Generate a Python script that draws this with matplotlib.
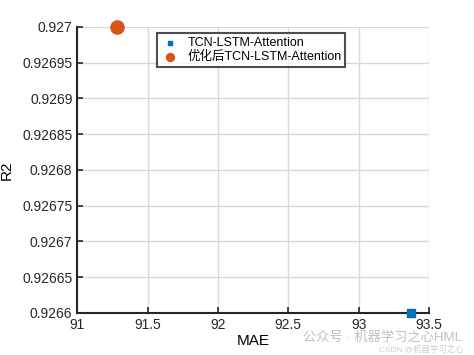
import matplotlib.pyplot as plt

plt.rcParams['font.family'] = ['Liberation Sans', 'Noto Sans CJK SC', 'DejaVu Sans']

# data
labels = ["TCN-LSTM-Attention", "优化后TCN-LSTM-Attention"]
mae = [93.37, 91.28]
r2 = [0.9266, 0.9270]
colors = ["#0072BD", "#D95319"]
markers = ["s", "o"]
sizes = [30, 90]

xticks = [91, 91.5, 92, 92.5, 93, 93.5]
yticks = [0.9266, 0.92665, 0.9267, 0.92675, 0.9268, 0.92685, 0.9269, 0.92695, 0.927]

fig = plt.figure(figsize=(4.74, 3.55), dpi=100)
ax = fig.add_axes([0.163, 0.119, 0.742, 0.805])

for i in range(len(labels)):
    ax.scatter(mae[i], r2[i], s=sizes[i], c=colors[i], marker=markers[i],
               label=labels[i], zorder=3, clip_on=False)

ax.set_xlim(91, 93.5)
ax.set_ylim(0.9266, 0.927)
ax.set_xticks(xticks)
ax.set_xticklabels(["91", "91.5", "92", "92.5", "93", "93.5"])
ax.set_yticks(yticks)
ax.set_yticklabels(["0.9266", "0.92665", "0.9267", "0.92675", "0.9268",
                    "0.92685", "0.9269", "0.92695", "0.927"])
ax.tick_params(direction='in', length=4, width=1.2, labelsize=10, colors='#262626')
ax.grid(True, color='#d8d8d8', linewidth=1)
ax.set_axisbelow(True)

for s in ['top', 'right']:
    ax.spines[s].set_visible(False)
for s in ['left', 'bottom']:
    ax.spines[s].set_linewidth(1.5)
    ax.spines[s].set_color('#262626')

ax.set_xlabel("MAE", fontsize=11, labelpad=2)
ax.set_ylabel("R2", fontsize=11, labelpad=6)

leg = ax.legend(loc='upper left', bbox_to_anchor=(0.21, 1.0), fontsize=9,
                frameon=True, fancybox=False, edgecolor='#222222',
                handletextpad=0.6, borderpad=0.3, labelspacing=0.15,
                markerscale=0.6, handlelength=1.5)
leg.get_frame().set_linewidth(1.5)

fig.text(0.64, 0.04, "公众号 · 机器学习之心HML", fontsize=9.5, color='#c0c0c0')
fig.text(0.80, 0.008, "CSDN @机器学习之心", fontsize=6, color='#cccccc')

fig.savefig("out.png", dpi=100)
